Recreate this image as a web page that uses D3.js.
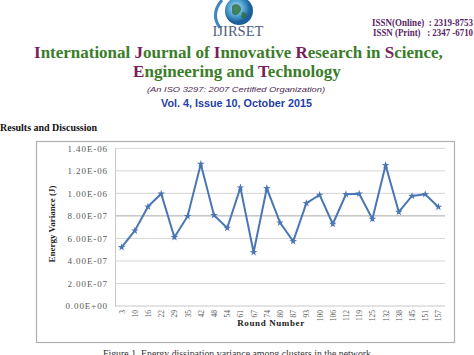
<!DOCTYPE html>
<html><head><meta charset="utf-8">
<script src="https://cdn.jsdelivr.net/npm/d3@7"></script>
<style>
html,body{margin:0;padding:0;background:#fff;overflow:hidden;}
svg{display:block;}
</style></head>
<body>
<script>
// ---- data ----
const rounds = ["3","10","16","22","29","35","42","48","54","61","67","74","80","87","93","100","106","112","119","125","132","138","145","151","157"];
const variance = [5.21e-7,6.69e-7,8.82e-7,9.97e-7,6.10e-7,7.97e-7,1.261e-6,8.05e-7,6.93e-7,1.051e-6,4.77e-7,1.045e-6,7.40e-7,5.75e-7,9.12e-7,9.86e-7,7.28e-7,9.92e-7,9.97e-7,7.73e-7,1.250e-6,8.35e-7,9.77e-7,9.92e-7,8.79e-7];
const yTicks = [0,2e-7,4e-7,6e-7,8e-7,1e-6,1.2e-6,1.4e-6];
const yTickLabels = ["0.00E+00","2.00E-07","4.00E-07","6.00E-07","8.00E-07","1.00E-06","1.20E-06","1.40E-06"];

const W=474,H=355;
const svg=d3.select("body").append("svg").attr("width",W).attr("height",H);
const serif="'Liberation Serif','DejaVu Serif',serif";
const sans="'Liberation Sans',Arial,sans-serif";

// ---- header ----
const purple="#7a1d5c", green="#3b7d2a";
// logo
const lg=svg.append("g");
const grad=svg.append("defs").append("radialGradient").attr("id","gl").attr("cx","40%").attr("cy","40%");
grad.append("stop").attr("offset","0%").attr("stop-color","#bfe3f5");
grad.append("stop").attr("offset","60%").attr("stop-color","#4a9fd0");
grad.append("stop").attr("offset","100%").attr("stop-color","#1d5f98");
lg.append("path").attr("d","M222,0 Q210,14 220,28").attr("fill","none").attr("stroke","#3f86c0").attr("stroke-width",3);
lg.append("circle").attr("cx",239).attr("cy",11).attr("r",14).attr("fill","url(#gl)");
lg.append("path").attr("d","M232,6 q4,-4 8,0 q3,4 -2,8 q-3,3 -6,-1z M242,12 q4,0 5,4 q-3,4 -6,1z").attr("fill","#2d6e3a").attr("opacity",0.8);
lg.append("text").attr("x",238).attr("y",36).attr("text-anchor","middle")
  .attr("font-family",serif).attr("font-size",15).attr("fill","#4d5e7e")
  .attr("textLength",51).attr("lengthAdjust","spacingAndGlyphs").text("IJIRSET");

// ISSN
[["ISSN(Online)  : 2319-8753",26,101],["ISSN (Print)   : 2347 -6710",36,100]].forEach(([t,y,l])=>{
  svg.append("text").attr("x",473).attr("y",y).attr("text-anchor","end")
    .attr("font-family",serif).attr("font-weight","bold").attr("font-size",9.5)
    .attr("fill","#5a1f66").attr("xml:space","preserve")
    .attr("textLength",l).attr("lengthAdjust","spacingAndGlyphs").text(t);
});

function colored(parts,x,y,len){
  const t=svg.append("text").attr("x",x).attr("y",y).attr("font-family",serif)
    .attr("font-weight","bold").attr("font-size",17.5);
  parts.forEach(([s,c])=>t.append("tspan").attr("fill",c).text(s));
  const w=t.node().getComputedTextLength();
  t.attr("font-size",17.5*len/w);
}
colored([["I",purple],["nternational ",green],["J",purple],["ournal of ",green],["I",purple],["nnovative ",green],["R",purple],["esearch in ",green],["S",purple],["cience,",green]],34,58,409);
colored([["E",purple],["ngineering and ",green],["T",purple],["echnology",green]],133,77,208);

svg.append("text").attr("x",236).attr("y",92).attr("text-anchor","middle")
  .attr("font-family",sans).attr("font-style","italic").attr("font-size",7.5)
  .attr("fill","#4e2b55").attr("textLength",178).attr("lengthAdjust","spacingAndGlyphs")
  .text("(An ISO 3297: 2007 Certified Organization)");
svg.append("text").attr("x",236.5).attr("y",107).attr("text-anchor","middle")
  .attr("font-family",sans).attr("font-weight","bold").attr("font-size",10.5)
  .attr("fill","#1f3fa3").attr("textLength",151).attr("lengthAdjust","spacingAndGlyphs")
  .text("Vol. 4, Issue 10, October 2015");

svg.append("text").attr("x",0).attr("y",131).attr("font-family",serif).attr("font-weight","bold")
  .attr("font-size",11).attr("fill","#111").attr("textLength",97).attr("lengthAdjust","spacingAndGlyphs")
  .text("Results and Discussion");

// ---- chart box ----
svg.append("rect").attr("x",36.5).attr("y",141.5).attr("width",418).attr("height",201)
  .attr("fill","#fff").attr("stroke","#b0b0b0").attr("stroke-width",1.2);

const x0=115,x1=445,yTop=148.3,yBot=306;
const x=d3.scalePoint().domain(rounds).range([x0,x1]).padding(0.5);
const y=d3.scaleLinear().domain([0,1.4e-6]).range([yBot,yTop]);

// gridlines
svg.append("g").selectAll("line").data(yTicks.slice(1)).join("line")
  .attr("x1",x0).attr("x2",x1).attr("y1",d=>y(d)).attr("y2",d=>y(d))
  .attr("stroke",(d,i)=>i===3?"#a8a8a8":"#d6d6d6").attr("stroke-width",1);

// axes
const yAxis=d3.axisLeft(y).tickValues(yTicks).tickFormat((d,i)=>yTickLabels[i]).tickSize(0).tickPadding(7);
const gy=svg.append("g").attr("transform",`translate(${x0},0)`).call(yAxis);
gy.select(".domain").attr("stroke","#c8c8c8");
gy.selectAll("text").attr("font-family",serif).attr("font-size",9).attr("fill","#5a5a5a")
  .attr("letter-spacing","0.9px");

const xAxis=d3.axisBottom(x).tickSize(0).tickPadding(4);
const gx=svg.append("g").attr("transform",`translate(0,${yBot})`).call(xAxis);
gx.select(".domain").attr("stroke","#c8c8c8").attr("d",`M${x0},0H${x1}`);
gx.selectAll("text").attr("font-family",serif).attr("font-size",7.5).attr("fill","#5a5a5a")
  .attr("transform","rotate(-90)").attr("text-anchor","end").attr("dy","0.33em")
  .attr("x",-4).attr("y",0);

// titles
svg.append("text").attr("x",271).attr("y",326).attr("text-anchor","middle")
  .attr("font-family",serif).attr("font-weight","bold").attr("font-size",9).attr("fill","#222")
  .attr("letter-spacing","0.6px").text("Round Number");
svg.append("text").attr("transform","translate(55,224) rotate(-90)").attr("text-anchor","middle")
  .attr("font-family",serif).attr("font-weight","bold").attr("font-size",9).attr("fill","#222")
  .text("Energy Variance (J)");

// line
const line=d3.line().x((d,i)=>x(rounds[i])).y(d=>y(d));
svg.append("path").datum(variance).attr("d",line).attr("fill","none")
  .attr("stroke","#4a76b4").attr("stroke-width",2).attr("stroke-linejoin","miter");
svg.append("g").selectAll("path").data(variance).join("path")
  .attr("transform",(d,i)=>`translate(${x(rounds[i])},${y(d)})`)
  .attr("d",d3.symbol(d3.symbolStar,18))
  .attr("fill","#4a76b4");

// caption
svg.append("text").attr("x",103).attr("y",357).attr("font-family",serif).attr("font-size",11)
  .attr("fill","#333").attr("textLength",268).attr("lengthAdjust","spacingAndGlyphs")
  .text("Figure 1. Energy dissipation variance among clusters in the network");
</script>
</body></html>
